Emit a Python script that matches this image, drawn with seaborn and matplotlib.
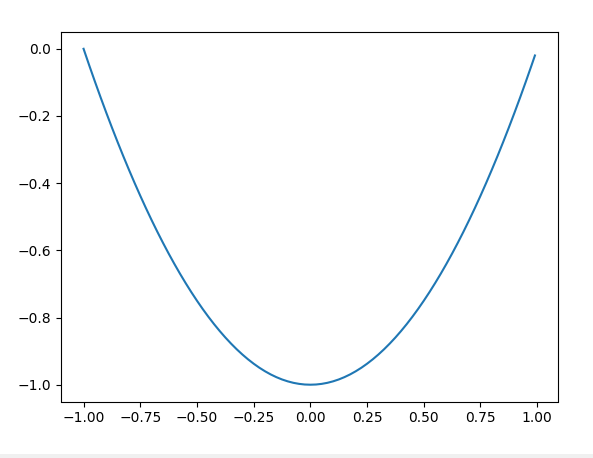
import matplotlib
matplotlib.use("Agg")
import matplotlib.pyplot as plt
import seaborn as sns
import pandas as pd
from matplotlib.patches import Rectangle

x_vals = [-1.000, -0.975, -0.950, -0.925, -0.900, -0.875, -0.850, -0.825, -0.800, -0.775,
          -0.750, -0.725, -0.700, -0.675, -0.650, -0.625, -0.600, -0.575, -0.550, -0.525,
          -0.500, -0.475, -0.450, -0.425, -0.400, -0.375, -0.350, -0.325, -0.300, -0.275,
          -0.250, -0.225, -0.200, -0.175, -0.150, -0.125, -0.100, -0.075, -0.050, -0.025,
          0.000, 0.025, 0.050, 0.075, 0.100, 0.125, 0.150, 0.175, 0.200, 0.225,
          0.250, 0.275, 0.300, 0.325, 0.350, 0.375, 0.400, 0.425, 0.450, 0.475,
          0.500, 0.525, 0.550, 0.575, 0.600, 0.625, 0.650, 0.675, 0.700, 0.725,
          0.750, 0.775, 0.800, 0.825, 0.850, 0.875, 0.900, 0.925, 0.950, 0.975, 0.990]
y_vals = [0.0, -0.0494, -0.0975, -0.1444, -0.19, -0.2344, -0.2775, -0.3194, -0.36, -0.3994,
          -0.4375, -0.4744, -0.51, -0.5444, -0.5775, -0.6094, -0.64, -0.6694, -0.6975, -0.7244,
          -0.75, -0.7744, -0.7975, -0.8194, -0.84, -0.8594, -0.8775, -0.8944, -0.91, -0.9244,
          -0.9375, -0.9494, -0.96, -0.9694, -0.9775, -0.9844, -0.99, -0.9944, -0.9975, -0.9994,
          -1.0, -0.9994, -0.9975, -0.9944, -0.99, -0.9844, -0.9775, -0.9694, -0.96, -0.9494,
          -0.9375, -0.9244, -0.91, -0.8944, -0.8775, -0.8594, -0.84, -0.8194, -0.7975, -0.7744,
          -0.75, -0.7244, -0.6975, -0.6694, -0.64, -0.6094, -0.5775, -0.5444, -0.51, -0.4744,
          -0.4375, -0.3994, -0.36, -0.3194, -0.2775, -0.2344, -0.19, -0.1444, -0.0975, -0.0494, -0.0199]

df = pd.DataFrame({"x": x_vals, "y": y_vals})

fig = plt.figure(figsize=(5.93, 4.58), dpi=100)
ax = fig.add_axes([61/593, 1 - 401.5/458, (557.5 - 61)/593, (401.5 - 32)/458])
sns.lineplot(data=df, x="x", y="y", ax=ax, color="#1f77b4", linewidth=1.5, sort=False)
ax.set_xlabel("")
ax.set_ylabel("")
ax.set_xticks([-1.0, -0.75, -0.5, -0.25, 0.0, 0.25, 0.5, 0.75, 1.0])
ax.set_xticklabels(["\u22121.00", "\u22120.75", "\u22120.50", "\u22120.25", "0.00", "0.25", "0.50", "0.75", "1.00"])
ax.set_yticks([0.0, -0.2, -0.4, -0.6, -0.8, -1.0])
ax.set_yticklabels(["0.0", "\u22120.2", "\u22120.4", "\u22120.6", "\u22120.8", "\u22121.0"])
ax.tick_params(labelsize=10)

fig.patches.append(Rectangle((0, 0), 1, 4/458, transform=fig.transFigure,
                             facecolor="#f0f0f0", edgecolor="none", zorder=-1))

fig.savefig("out.png", dpi=100)
